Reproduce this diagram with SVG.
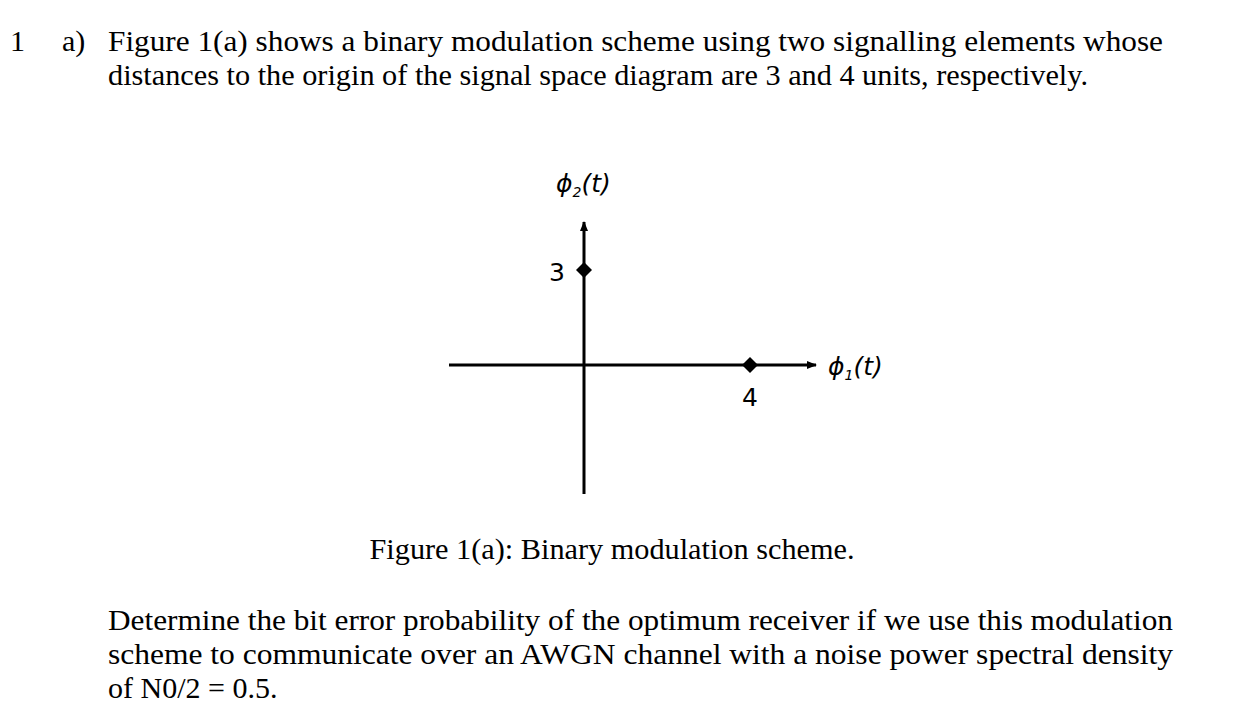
<svg xmlns="http://www.w3.org/2000/svg" width="1249" height="715" viewBox="0 0 1249 715">
<style>
.t{font-family:"Liberation Serif",serif;font-size:30px;fill:#000}
.s{font-family:"DejaVu Sans",sans-serif;font-size:25px;fill:#000}
.ax{stroke:#000;stroke-width:3;fill:none}
</style>
<defs><marker id="ah" markerWidth="10" markerHeight="8" refX="9" refY="4" orient="auto" markerUnits="userSpaceOnUse"><path d="M0,0 L10,4 L0,8 Z" fill="#000"/></marker></defs>
<rect width="1249" height="715" fill="#fff"/>
<text class="t" x="10" y="51">1</text>
<text class="t" x="62" y="51">a)</text>
<text class="t" x="108" y="51" textLength="1055" lengthAdjust="spacingAndGlyphs">Figure 1(a) shows a binary modulation scheme using two signalling elements whose</text>
<text class="t" x="108" y="85" textLength="980" lengthAdjust="spacingAndGlyphs">distances to the origin of the signal space diagram are 3 and 4 units, respectively.</text>
<g id="connectors">
<line class="ax" x1="584" y1="494" x2="584" y2="222" marker-end="url(#ah)"/>
<line class="ax" x1="449" y1="365" x2="816" y2="365" marker-end="url(#ah)"/>
</g>
<g id="p3"><path d="M584,262 L592,270 L584,278 L576,270 Z" fill="#000"/><text class="s" x="557" y="281" text-anchor="middle">3</text></g>
<g id="p4"><path d="M750,357 L758,365 L750,373 L742,365 Z" fill="#000"/><text class="s" x="750" y="406" text-anchor="middle">4</text></g>
<g id="phi2"><text class="s" x="556" y="192" font-style="italic">ϕ<tspan font-size="14" dy="5">2</tspan><tspan dy="-5">(t)</tspan></text></g>
<g id="phi1"><text class="s" x="828" y="375" font-style="italic">ϕ<tspan font-size="14" dy="5">1</tspan><tspan dy="-5">(t)</tspan></text></g>
<text class="t" x="612" y="559" text-anchor="middle" textLength="485" lengthAdjust="spacingAndGlyphs">Figure 1(a): Binary modulation scheme.</text>
<text class="t" x="108" y="630" textLength="1065" lengthAdjust="spacingAndGlyphs">Determine the bit error probability of the optimum receiver if we use this modulation</text>
<text class="t" x="108" y="664" textLength="1065" lengthAdjust="spacingAndGlyphs">scheme to communicate over an AWGN channel with a noise power spectral density</text>
<text class="t" x="108" y="698">of N0/2 = 0.5.</text>
</svg>
